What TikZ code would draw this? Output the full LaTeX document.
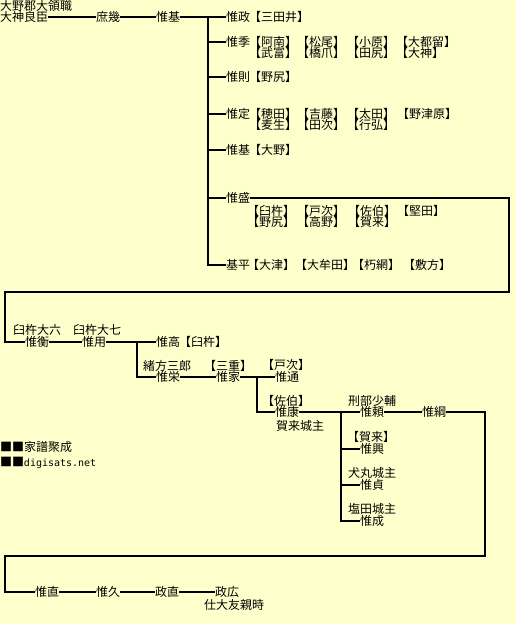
\documentclass[tikz,border=0pt]{standalone}
\usepackage{fontspec}
\setmainfont{Noto Sans CJK JP}
\newfontfamily\monofont{DejaVu Sans Mono}
\definecolor{bgc}{HTML}{FFFFCC}
\begin{document}
\begin{tikzpicture}[x=1pt,y=-1pt,
  lbl/.style={anchor=west,inner sep=0pt,outer sep=0pt,font=\fontsize{12pt}{12pt}\selectfont,text height=10pt,text depth=1pt},
  tag/.style={lbl,xshift=-6pt},
  ln/.style={line width=2.7pt}]
\fill[bgc] (0,0) rectangle (516,624);
\useasboundingbox (0,0) rectangle (516,624);
% generation 1
\node[lbl] (h0) at (0,6) {大野郡大領職};
\node[lbl] (a0) at (0,17) {大神良臣};
\node[lbl] (a1) at (96,17) {庶幾};
\node[lbl] (a2) at (156,17) {惟基};
\node[lbl] (c1) at (226,17) {惟政};
\node[tag] (t1) at (255,17) {【三田井】};
\node[lbl] (c2) at (226,42) {惟季};
\foreach \x/\t [count=\i] in {255/阿南,303/松尾,353/小原,402/大都留}
  \node[tag] (t2a\i) at (\x,42) {【\t】};
\foreach \x/\t [count=\i] in {255/武富,303/橋爪,353/田尻,402/大神}
  \node[tag] (t2b\i) at (\x,53) {【\t】};
\node[lbl] (c3) at (226,77) {惟則};
\node[tag] (t3) at (255,77) {【野尻】};
\node[lbl] (c4) at (226,114) {惟定};
\foreach \x/\t [count=\i] in {255/穂田,303/吉藤,353/太田,403/野津原}
  \node[tag] (t4a\i) at (\x,114) {【\t】};
\foreach \x/\t [count=\i] in {255/麦生,303/田次,353/行弘}
  \node[tag] (t4b\i) at (\x,125) {【\t】};
\node[lbl] (c5) at (226,150) {惟基};
\node[tag] (t5) at (255,150) {【大野】};
\node[lbl] (c6) at (226,198) {惟盛};
\foreach \x/\t [count=\i] in {253/臼杵,303/戸次,354/佐伯,403/堅田}
  \node[tag] (t6a\i) at (\x,211) {【\t】};
\foreach \x/\t [count=\i] in {253/野尻,303/高野,354/賀来}
  \node[tag] (t6b\i) at (\x,222) {【\t】};
\node[lbl] (c7) at (226,265) {基平};
\foreach \x/\t [count=\i] in {253/大津,301/大牟田,358/朽網,409/敷方}
  \node[tag] (t7\i) at (\x,265) {【\t】};
% generation 2
\node[lbl] (r1s) at (13,330) {臼杵大六};
\node[lbl] (r1) at (25,342) {惟衡};
\node[lbl] (r2s) at (73,330) {臼杵大七};
\node[lbl] (r2) at (82,342) {惟用};
\node[lbl] (r3) at (156,342) {惟高};
\node[tag] (r3t) at (185,342) {【臼杵】};
\node[lbl] (r4s) at (143,366) {緒方三郎};
\node[lbl] (r4) at (156,377) {惟栄};
\node[tag] (r5s) at (210,366) {【三重】};
\node[lbl] (r5) at (216,377) {惟家};
\node[tag] (r6s) at (268,365) {【戸次】};
\node[lbl] (r6) at (275,377) {惟通};
\node[tag] (r7s) at (268,401) {【佐伯】};
\node[lbl] (r7) at (275,412) {惟康};
\node[lbl] (r7b) at (276,426) {賀来城主};
\node[lbl] (r8s) at (348,401) {刑部少輔};
\node[lbl] (r8) at (360,412) {惟頼};
\node[lbl] (r9) at (422,412) {惟綱};
\node[tag] (r10s) at (353,437) {【賀来】};
\node[lbl] (r10) at (360,449) {惟興};
\node[lbl] (r11s) at (348,473) {犬丸城主};
\node[lbl] (r11) at (360,485) {惟貞};
\node[lbl] (r12s) at (348,509) {塩田城主};
\node[lbl] (r12) at (360,521) {惟成};
% generation 3
\node[lbl] (b1) at (35,592) {惟直};
\node[lbl] (b2) at (96,592) {惟久};
\node[lbl] (b3) at (155,592) {政直};
\node[lbl] (b4) at (215,592) {政広};
\node[lbl] (b4s) at (204,605) {仕大友親時};
% legend
\node[lbl] (lg1) at (0,447) {■■家譜聚成};
\node[lbl] (lg2) at (0,462) {■■{\monofont\fontsize{10pt}{10pt}\selectfont digisats.net}};
% connectors
\draw[ln] (a0.east) -- (a1.west);
\draw[ln] (a1.east) -- (a2.west);
\draw[ln] (a2.east) -- (c1.west);
\coordinate (tk) at (208,17);
\draw[ln] (tk) |- (c7.west);
\foreach \c in {c2,c3,c4,c5,c6} \draw[ln] (tk |- \c.west) -- (\c.west);
\coordinate (fa) at (509,292);
\coordinate (fb) at (5,292);
\draw[ln] (c6.east) -- (fa |- c6.east) -- (fa) -- (fb) -- (fb |- r1.west) -- (r1.west);
\draw[ln] (r1.east) -- (r2.west);
\draw[ln] (r2.east) -- (r3.west);
\coordinate (v2) at (137,342);
\draw[ln] (v2) |- (r4.west);
\draw[ln] (r4.east) -- (r5.west);
\draw[ln] (r5.east) -- (r6.west);
\coordinate (v3) at (257,377);
\draw[ln] (v3) |- (r7.west);
\draw[ln] (r7.east) -- (r8.west);
\draw[ln] (r8.east) -- (r9.west);
\coordinate (v4) at (341,412);
\draw[ln] (v4) |- (r12.west);
\draw[ln] (v4 |- r10.west) -- (r10.west);
\draw[ln] (v4 |- r11.west) -- (r11.west);
\coordinate (ga) at (485,556);
\coordinate (gb) at (5,556);
\draw[ln] (r9.east) -- (ga |- r9.east) -- (ga) -- (gb) -- (gb |- b1.west) -- (b1.west);
\draw[ln] (b1.east) -- (b2.west);
\draw[ln] (b2.east) -- (b3.west);
\draw[ln] (b3.east) -- (b4.west);
\end{tikzpicture}
\end{document}
